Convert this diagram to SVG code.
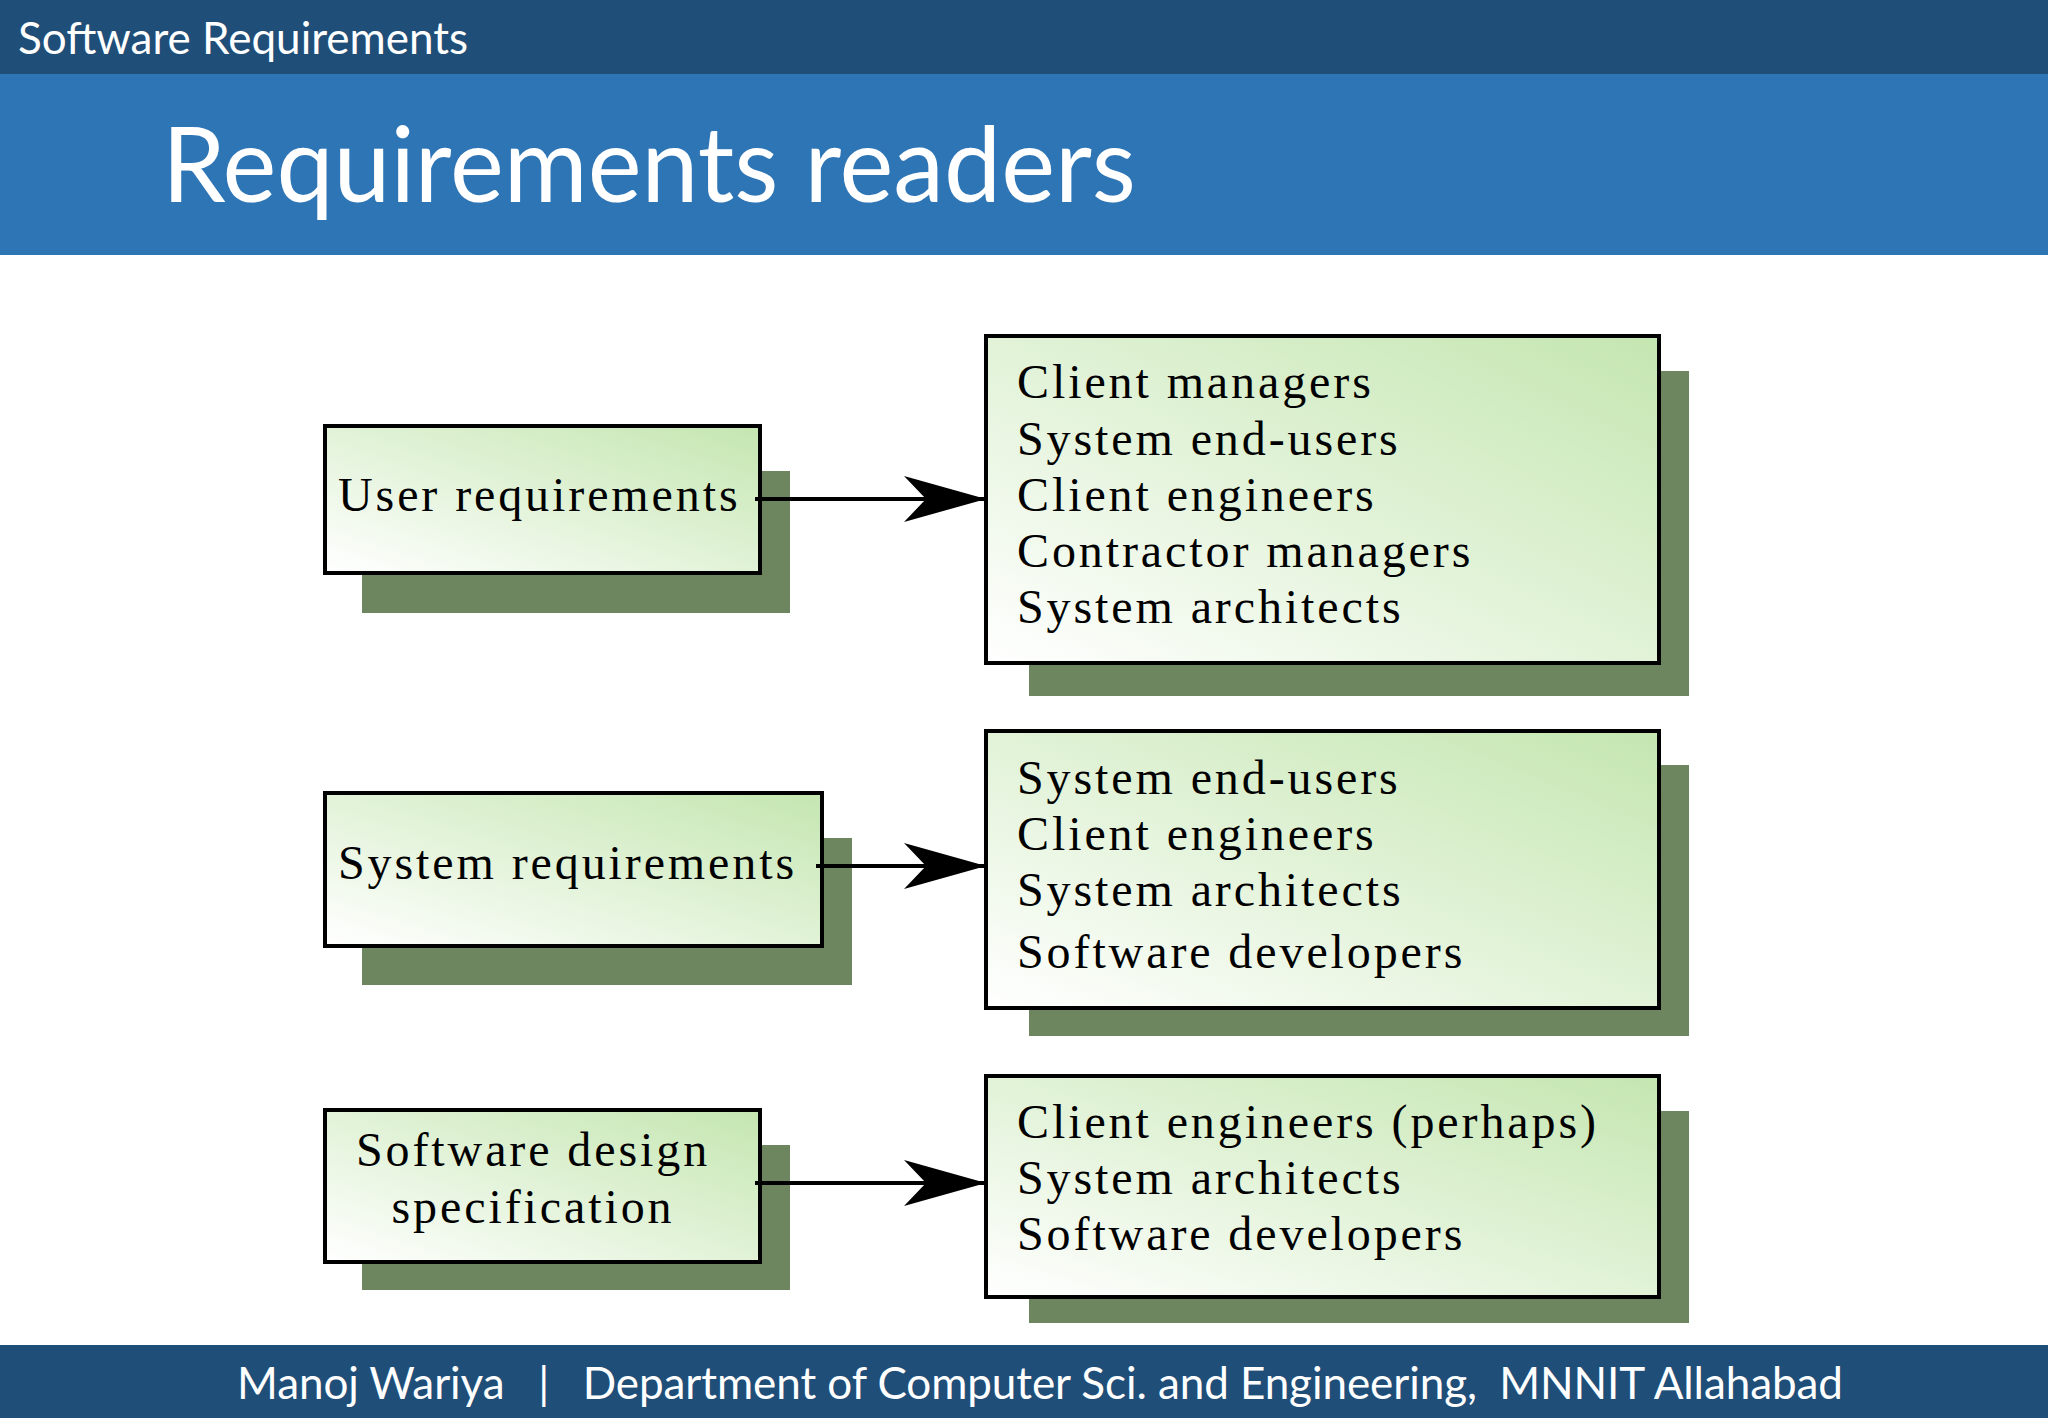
<svg xmlns="http://www.w3.org/2000/svg" width="2048" height="1418" viewBox="0 0 2048 1418">
<style>
.sh{fill:#6e8660}
.bx{fill:url(#g);stroke:#000;stroke-width:4}
.t{font-family:"Liberation Serif",serif;font-size:48px;fill:#000;letter-spacing:2.9px}
.ln{stroke:#000;stroke-width:4;fill:none}
</style>
<defs>
<linearGradient id="g" x1="1" y1="0" x2="0" y2="1">
<stop offset="0" stop-color="#c4e6b0"/><stop offset="1" stop-color="#ffffff"/>
</linearGradient>
<marker id="a" markerWidth="82" markerHeight="46" refX="82" refY="23" markerUnits="userSpaceOnUse" orient="auto">
<path d="M0,0 L82,23 L0,46 L22,23 Z" fill="#000"/>
</marker>
</defs>
<rect width="2048" height="1418" fill="#fff"/>
<rect x="0" y="0" width="2048" height="74" fill="#1f4e79"/>
<rect x="0" y="74" width="2048" height="181" fill="#2e75b6"/>
<text x="18" y="54" font-family="Lato,sans-serif" font-size="44" fill="#fff">Software Requirements</text>
<text x="162" y="202" font-family="Lato,sans-serif" font-size="104" fill="#fff" textLength="974" lengthAdjust="spacingAndGlyphs">Requirements readers</text>
<rect x="0" y="1345" width="2048" height="73" fill="#1f4e79"/>
<text x="1040" y="1399" text-anchor="middle" font-family="Lato,sans-serif" font-size="44" fill="#fff" xml:space="preserve" textLength="1606">Manoj Wariya   |   Department of Computer Sci. and Engineering,  MNNIT Allahabad</text>
<g id="ur"><rect class="sh" x="362" y="471" width="428" height="142"/><rect class="bx" x="325" y="426" width="435" height="147"/><text class="t" x="338" y="511">User requirements</text></g>
<g id="sr"><rect class="sh" x="362" y="838" width="490" height="147"/><rect class="bx" x="325" y="793" width="497" height="153"/><text class="t" x="338" y="879">System requirements</text></g>
<g id="sd"><rect class="sh" x="362" y="1145" width="428" height="145"/><rect class="bx" x="325" y="1110" width="435" height="152"/><text class="t" x="533" y="1166" text-anchor="middle">Software design</text><text class="t" x="533" y="1223" text-anchor="middle">specification</text></g>
<g id="r1"><rect class="sh" x="1029" y="371" width="660" height="325"/><rect class="bx" x="986" y="336" width="673" height="327"/>
<text class="t" x="1017" y="398">Client managers</text><text class="t" x="1017" y="455">System end-users</text><text class="t" x="1017" y="511">Client engineers</text><text class="t" x="1017" y="567">Contractor managers</text><text class="t" x="1017" y="623">System architects</text></g>
<g id="r2"><rect class="sh" x="1029" y="765" width="660" height="271"/><rect class="bx" x="986" y="731" width="673" height="277"/>
<text class="t" x="1017" y="794">System end-users</text><text class="t" x="1017" y="850">Client engineers</text><text class="t" x="1017" y="906">System architects</text><text class="t" x="1017" y="968">Software developers</text></g>
<g id="r3"><rect class="sh" x="1029" y="1111" width="660" height="212"/><rect class="bx" x="986" y="1076" width="673" height="221"/>
<text class="t" x="1017" y="1138">Client engineers (perhaps)</text><text class="t" x="1017" y="1194">System architects</text><text class="t" x="1017" y="1250">Software developers</text></g>
<g id="connectors">
<line class="ln" x1="755" y1="499" x2="986" y2="499" marker-end="url(#a)"/>
<line class="ln" x1="816" y1="866" x2="986" y2="866" marker-end="url(#a)"/>
<line class="ln" x1="755" y1="1183" x2="986" y2="1183" marker-end="url(#a)"/>
</g>
</svg>
